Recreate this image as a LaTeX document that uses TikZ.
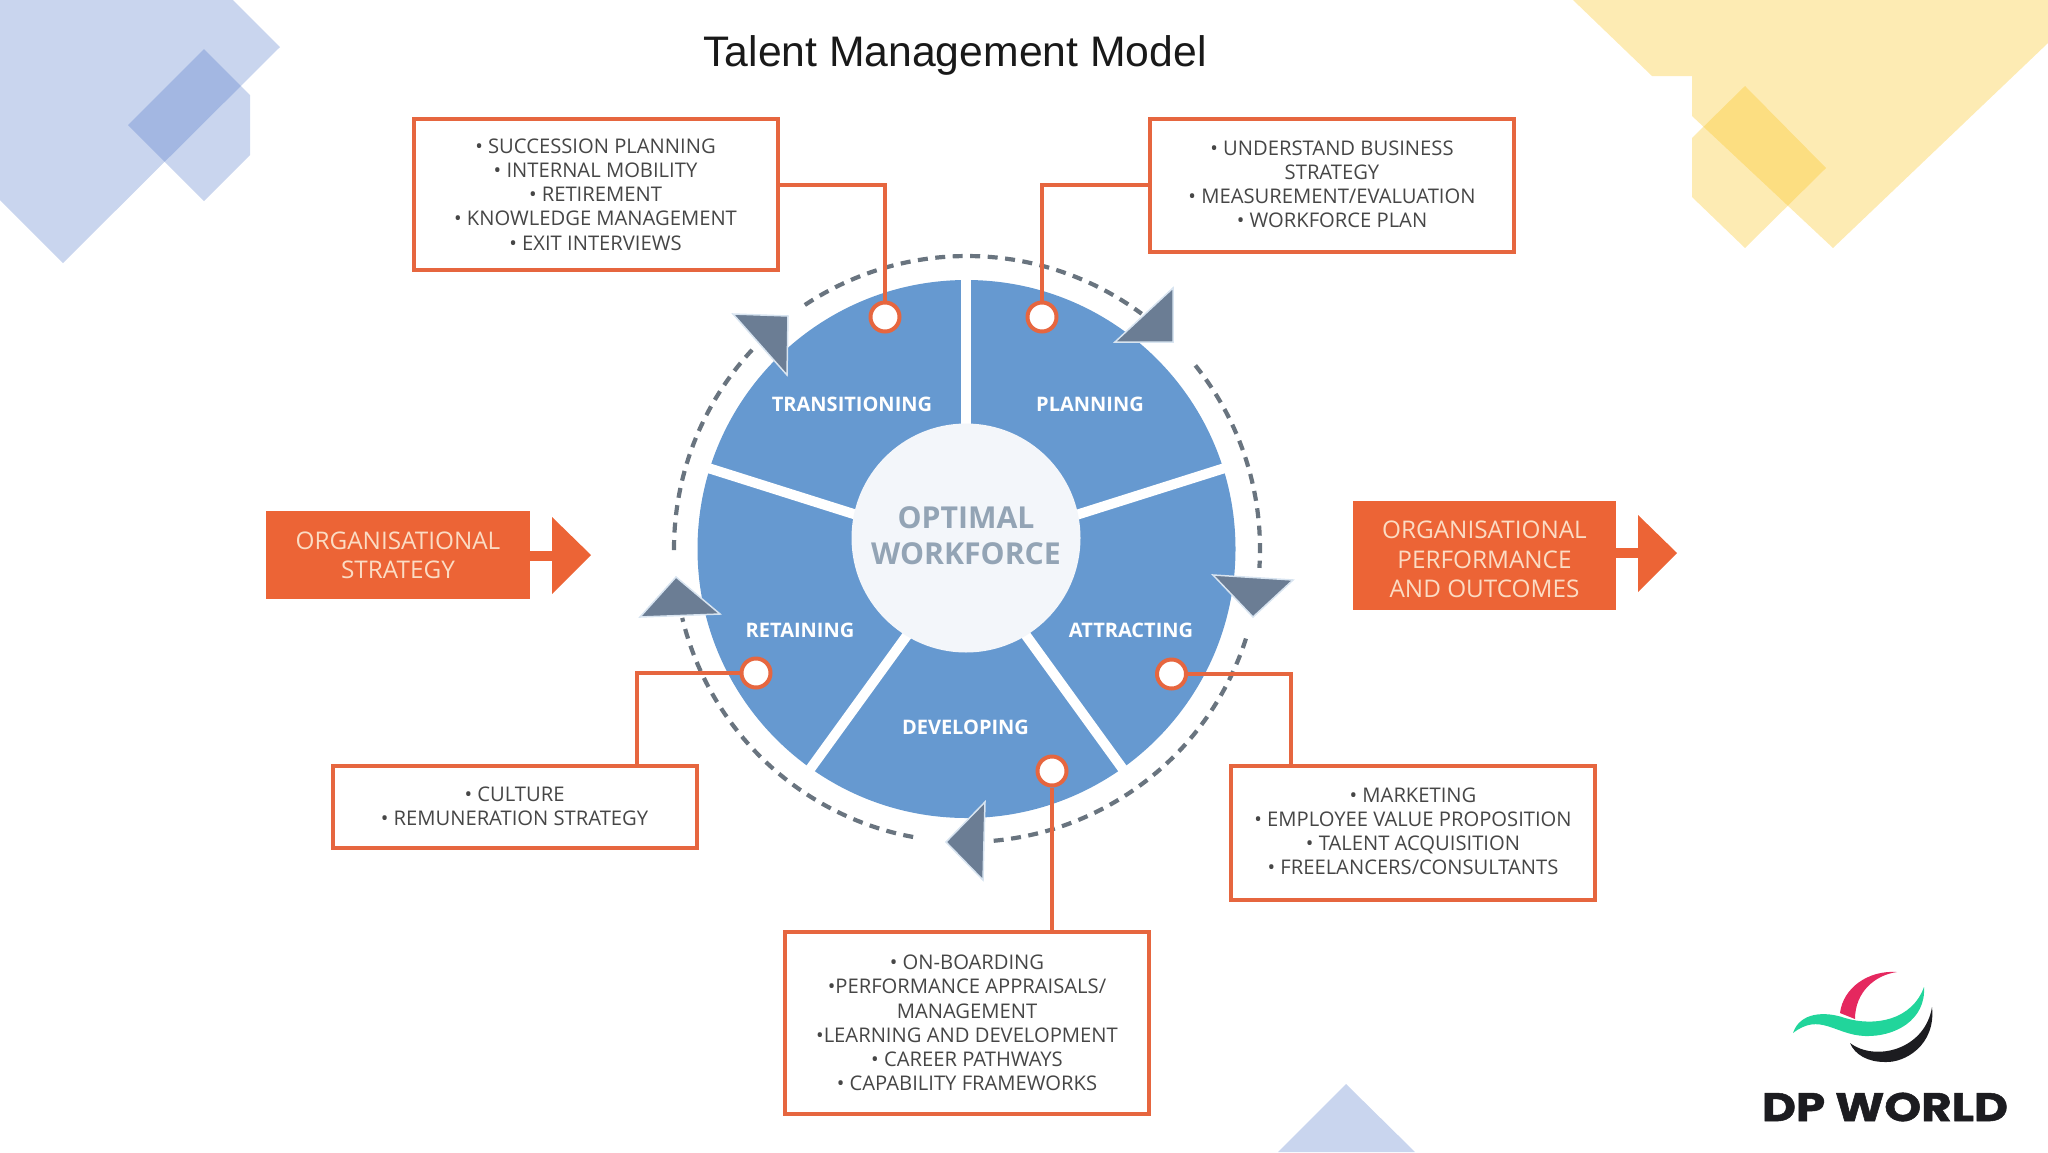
\documentclass[tikz,border=0pt]{standalone}
\usepackage{graphicx}
\usepackage{fontspec}
\setmainfont{Open Sans}
\newfontfamily\titlefont{Liberation Sans}
\newfontfamily\logofont[BoldFeatures={FakeBold=1.2}]{Poppins}
\usetikzlibrary{calc}
\definecolor{orangeline}{HTML}{E6663F}
\definecolor{orangefill}{HTML}{EC6436}
\definecolor{bluesector}{HTML}{6699D0}
\definecolor{hubfill}{HTML}{F3F6FA}
\definecolor{hubtext}{HTML}{93A4B5}
\definecolor{dashgray}{HTML}{69747F}
\definecolor{trifill}{HTML}{6B7D94}
\definecolor{triline}{HTML}{D8E4F0}
\definecolor{boxtext}{HTML}{464646}
\definecolor{orgtext}{HTML}{FBDCC4}
\definecolor{decoblue}{HTML}{4B73C6}
\definecolor{decoyellow}{HTML}{FAC219}
\definecolor{logored}{HTML}{E5285F}
\definecolor{logogreen}{HTML}{21D59B}
\definecolor{logoblack}{HTML}{1C1C20}
\tikzset{
  x=1pt,y=-1pt,
  infobox/.style={draw=orangeline,line width=4pt,fill=white,inner sep=0pt,align=center,text=boxtext,font=\fontsize{20.2}{24.2}\selectfont},
  orgbox/.style={fill=orangefill,inner sep=0pt,align=center,text=orgtext,font=\fontsize{24.3}{29.3}\selectfont},
  orgarrow/.style={fill=orangefill},
  orgshaft/.style={draw=orangefill,line width=10pt},
  link/.style={draw=orangeline,line width=3.5pt},
  dot/.style={circle,draw=orangeline,line width=4pt,fill=white,minimum size=29pt,inner sep=0pt},
  ringdash/.style={draw=dashgray,line width=4.2pt,dash pattern=on 10pt off 7.5pt},
  spoke/.style={draw=white,line width=10pt},
  sectorlabel/.style={text=white,font=\fontsize{20}{24}\selectfont\bfseries,inner sep=0pt},
  turn/.style={fill=trifill,draw=triline,line width=1.5pt,line join=miter},
  decob/.style={fill=decoblue,fill opacity=.3},
  decoy/.style={fill=decoyellow,fill opacity=.33},
}
\begin{document}
\begin{tikzpicture}
\useasboundingbox (0,0) rectangle (2048,1152);
% decoration
\fill[decob] (0,0) -- (233,0) -- (280,47) -- (63,263) -- (0,200) -- cycle;
\fill[decob] (204,49) -- (250,95) -- (250,155) -- (204,201) -- (128,125) -- cycle;
\fill[decoy] (1573,0) -- (1652,76) -- (1692,76) -- (1692,116) -- (1833,248) -- (2048,43) -- (2048,0) -- cycle;
\fill[decoy] (1745,86) -- (1826,168) -- (1745,248) -- (1692,197) -- (1692,138) -- cycle;
\fill[decob] (1346,1084) -- (1415,1152) -- (1278,1152) -- cycle;
% title
\node[font=\titlefont\fontsize{42.7}{50}\selectfont,text=black!90,inner sep=0pt] (title) at (955,55) {Talent Management Model};
% wheel
\coordinate (wheel) at (966.5,549);
\fill[bluesector] (wheel) circle[radius=269];
\draw[spoke] (966,275) -- (966,430);
\draw[spoke] (705,467) -- (860,516);
\draw[spoke] (1228,467) -- (1073,516);
\draw[spoke] (808,772) -- (908,634);
\draw[spoke] (1125,772) -- (1025,634);
\node[circle,fill=hubfill,minimum size=229pt,inner sep=0pt,align=center,text=hubtext,font=\fontsize{30.2}{36}\selectfont\bfseries] (hub) at (966,538) {OPTIMAL\\WORKFORCE\rule[-5pt]{0pt}{5pt}};
% dashed ring
\draw[ringdash] ($(967,549)+(123.6:293 and -293)$) arc[start angle=-123.6,end angle=-53.4,radius=293];
\draw[ringdash] ($(967,549)+(38.8:293 and -293)$) arc[start angle=-38.8,end angle=3.7,radius=293];
\draw[ringdash] ($(967,549)+(-17.8:293 and -293)$) arc[start angle=17.8,end angle=86.1,radius=293];
\draw[ringdash] ($(967,549)+(259.4:293 and -293)$) arc[start angle=100.6,end angle=166.4,radius=293];
\draw[ringdash] ($(967,549)+(180.2:293 and -293)$) arc[start angle=179.8,end angle=224.2,radius=293];
% sector labels
\node[sectorlabel] (ltrans) at (852,404) {TRANSITIONING};
\node[sectorlabel] (lplan) at (1090,404) {PLANNING};
\node[sectorlabel] (lattr) at (1131,630) {ATTRACTING};
\node[sectorlabel] (lret) at (800,630) {RETAINING};
\node[sectorlabel] (ldev) at (965.5,727) {DEVELOPING};
% turn arrows
\filldraw[turn] (733,314) -- (788,316) -- (787,375) -- cycle;
\filldraw[turn] (1173,288) -- (1173,342) -- (1115,342) -- cycle;
\filldraw[turn] (1213,575) -- (1293,580) -- (1253,617) -- cycle;
\filldraw[turn] (676,577) -- (720,614) -- (640,617) -- cycle;
\filldraw[turn] (985,802) -- (946,842) -- (983,880) -- cycle;
% boxes
\node[infobox,minimum width=364pt,minimum height=151pt] (tl) at (595.5,194.5) {• SUCCESSION PLANNING\\• INTERNAL MOBILITY\\• RETIREMENT\\• KNOWLEDGE MANAGEMENT\\• EXIT INTERVIEWS};
\node[infobox,minimum width=364pt,minimum height=133pt] (tr) at (1332,185.5) {• UNDERSTAND BUSINESS\\STRATEGY\\• MEASUREMENT/EVALUATION\\• WORKFORCE PLAN\rule[-2.6pt]{0pt}{2.6pt}};
\node[infobox,minimum width=364pt,minimum height=82pt] (bl) at (514.5,806.5) {• CULTURE\\• REMUNERATION STRATEGY};
\node[infobox,minimum width=364pt,minimum height=134pt] (br) at (1413,832.5) {• MARKETING\\• EMPLOYEE VALUE PROPOSITION\\• TALENT ACQUISITION\\• FREELANCERS/CONSULTANTS\rule[-2.6pt]{0pt}{2.6pt}};
\node[infobox,minimum width=364pt,minimum height=182pt] (bm) at (967,1023) {• ON-BOARDING\\•PERFORMANCE APPRAISALS/\\MANAGEMENT\\•LEARNING AND DEVELOPMENT\\• CAREER PATHWAYS\\• CAPABILITY FRAMEWORKS};
% dots
\node[dot] (dtl) at (885,317) {};
\node[dot] (dtr) at (1042,317) {};
\node[dot] (dbr) at (1171.5,674) {};
\node[dot] (dbl) at (756,673) {};
\node[dot] (dbm) at (1052,771) {};
% connectors
\coordinate (jtl) at (885,185);
\coordinate (jtr) at (1042,185);
\coordinate (jbl) at (637,673);
\coordinate (jbr) at (1291,674);
\draw[link] (tl.east |- jtl) -- (jtl) -- (dtl);
\draw[link] (tr.west |- jtr) -- (jtr) -- (dtr);
\draw[link] (dbl) -- (jbl) -- (jbl |- bl.north);
\draw[link] (dbr) -- (jbr) -- (jbr |- br.north);
\draw[link] (dbm) -- (dbm |- bm.north);
% organisation boxes
\node[orgbox,minimum width=264pt,minimum height=88pt] (orgl) at (398,555) {ORGANISATIONAL\\STRATEGY};
\coordinate (basel) at (552,556);
\coordinate (tipl) at (591,555);
\draw[orgshaft] (orgl.east |- basel) -- (basel);
\fill[orgarrow] (552,517) -- (tipl) -- (552,594) -- cycle;
\node[orgbox,minimum width=263pt,minimum height=109pt] (orgr) at (1484.5,555.5) {\rule{0pt}{25.5pt}ORGANISATIONAL\\PERFORMANCE\\AND OUTCOMES};
\coordinate (baser) at (1638,553);
\coordinate (tipr) at (1677,553);
\draw[orgshaft] (orgr.east |- baser) -- (baser);
\fill[orgarrow] (1638,515) -- (tipr) -- (1638,592) -- cycle;
% logo
\fill[logored] (1840,1013) .. controls (1843,988) and (1868,970) .. (1897,972) .. controls (1875,975) and (1855,992) .. (1855,1019) -- cycle;
\fill[logogreen] (1793,1033) .. controls (1800,1012) and (1825,1011) .. (1845,1018) .. controls (1875,1027) and (1912,1020) .. (1924,987) .. controls (1926,1020) and (1895,1037) .. (1865,1036) .. controls (1835,1035) and (1820,1012) .. (1793,1033) -- cycle;
\fill[logoblack] (1850,1043) .. controls (1875,1062) and (1925,1050) .. (1932,1007) .. controls (1936,1045) and (1905,1063) .. (1885,1062) .. controls (1868,1062) and (1855,1055) .. (1850,1043) -- cycle;
\node[font=\logofont\bfseries\fontsize{40}{46}\selectfont,text=logoblack,inner sep=0pt] (logotext) at (1885,1107) {\scalebox{1.17}[1]{DP WORLD}};
\end{tikzpicture}
\end{document}
